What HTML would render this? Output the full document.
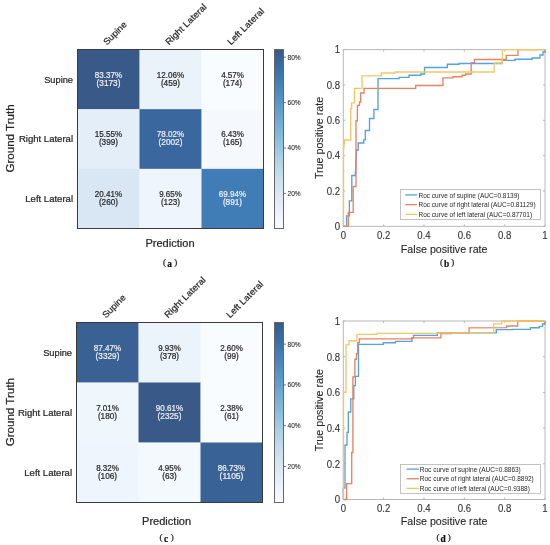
<!DOCTYPE html>
<html><head><meta charset="utf-8"><style>html,body{margin:0;padding:0;background:#fff;width:550px;height:545px;overflow:hidden;position:relative}</style></head><body>
<svg width="550" height="545" viewBox="0 0 550 545" style="font-family:'Liberation Sans',sans-serif;position:absolute;left:0;top:0;will-change:transform">
<rect width="550" height="545" fill="#fff"/>
<rect x="77.50" y="49.50" width="62.30" height="59.97" fill="#395989"/>
<rect x="139.50" y="49.50" width="62.30" height="59.97" fill="#eaf2fa"/>
<rect x="201.50" y="49.50" width="62.30" height="59.97" fill="#f9fcff"/>
<rect x="77.50" y="109.17" width="62.30" height="59.97" fill="#e3eef8"/>
<rect x="139.50" y="109.17" width="62.30" height="59.97" fill="#39679e"/>
<rect x="201.50" y="109.17" width="62.30" height="59.97" fill="#f5f9fe"/>
<rect x="77.50" y="168.83" width="62.30" height="59.97" fill="#d9e7f5"/>
<rect x="139.50" y="168.83" width="62.30" height="59.97" fill="#eff5fc"/>
<rect x="201.50" y="168.83" width="62.30" height="59.97" fill="#407db7"/>
<text x="108.50" y="77.73" text-anchor="middle" font-size="8.5" textLength="27.26" lengthAdjust="spacingAndGlyphs" fill="#f0f0f0" stroke="#f0f0f0" stroke-width="0.22">83.37%</text>
<text x="108.50" y="85.63" text-anchor="middle" font-size="8.5" textLength="23.78" lengthAdjust="spacingAndGlyphs" fill="#f0f0f0" stroke="#f0f0f0" stroke-width="0.22">(3173)</text>
<text x="170.50" y="77.73" text-anchor="middle" font-size="8.5" textLength="27.26" lengthAdjust="spacingAndGlyphs" fill="#262626" stroke="#262626" stroke-width="0.22">12.06%</text>
<text x="170.50" y="85.63" text-anchor="middle" font-size="8.5" textLength="19.23" lengthAdjust="spacingAndGlyphs" fill="#262626" stroke="#262626" stroke-width="0.22">(459)</text>
<text x="232.50" y="77.73" text-anchor="middle" font-size="8.5" textLength="22.71" lengthAdjust="spacingAndGlyphs" fill="#262626" stroke="#262626" stroke-width="0.22">4.57%</text>
<text x="232.50" y="85.63" text-anchor="middle" font-size="8.5" textLength="19.23" lengthAdjust="spacingAndGlyphs" fill="#262626" stroke="#262626" stroke-width="0.22">(174)</text>
<text x="108.50" y="137.40" text-anchor="middle" font-size="8.5" textLength="27.26" lengthAdjust="spacingAndGlyphs" fill="#262626" stroke="#262626" stroke-width="0.22">15.55%</text>
<text x="108.50" y="145.30" text-anchor="middle" font-size="8.5" textLength="19.23" lengthAdjust="spacingAndGlyphs" fill="#262626" stroke="#262626" stroke-width="0.22">(399)</text>
<text x="170.50" y="137.40" text-anchor="middle" font-size="8.5" textLength="27.26" lengthAdjust="spacingAndGlyphs" fill="#f0f0f0" stroke="#f0f0f0" stroke-width="0.22">78.02%</text>
<text x="170.50" y="145.30" text-anchor="middle" font-size="8.5" textLength="23.78" lengthAdjust="spacingAndGlyphs" fill="#f0f0f0" stroke="#f0f0f0" stroke-width="0.22">(2002)</text>
<text x="232.50" y="137.40" text-anchor="middle" font-size="8.5" textLength="22.71" lengthAdjust="spacingAndGlyphs" fill="#262626" stroke="#262626" stroke-width="0.22">6.43%</text>
<text x="232.50" y="145.30" text-anchor="middle" font-size="8.5" textLength="19.23" lengthAdjust="spacingAndGlyphs" fill="#262626" stroke="#262626" stroke-width="0.22">(165)</text>
<text x="108.50" y="197.07" text-anchor="middle" font-size="8.5" textLength="27.26" lengthAdjust="spacingAndGlyphs" fill="#262626" stroke="#262626" stroke-width="0.22">20.41%</text>
<text x="108.50" y="204.97" text-anchor="middle" font-size="8.5" textLength="19.23" lengthAdjust="spacingAndGlyphs" fill="#262626" stroke="#262626" stroke-width="0.22">(260)</text>
<text x="170.50" y="197.07" text-anchor="middle" font-size="8.5" textLength="22.71" lengthAdjust="spacingAndGlyphs" fill="#262626" stroke="#262626" stroke-width="0.22">9.65%</text>
<text x="170.50" y="204.97" text-anchor="middle" font-size="8.5" textLength="19.23" lengthAdjust="spacingAndGlyphs" fill="#262626" stroke="#262626" stroke-width="0.22">(123)</text>
<text x="232.50" y="197.07" text-anchor="middle" font-size="8.5" textLength="27.26" lengthAdjust="spacingAndGlyphs" fill="#f0f0f0" stroke="#f0f0f0" stroke-width="0.22">69.94%</text>
<text x="232.50" y="204.97" text-anchor="middle" font-size="8.5" textLength="19.23" lengthAdjust="spacingAndGlyphs" fill="#f0f0f0" stroke="#f0f0f0" stroke-width="0.22">(891)</text>
<rect x="77.50" y="49.50" width="186.00" height="179.00" fill="none" stroke="#3a3a3a" stroke-width="1"/>
<text x="73.00" y="82.73" text-anchor="end" font-size="9.0" textLength="28.81" lengthAdjust="spacingAndGlyphs" fill="#262626" stroke="#262626" stroke-width="0.22">Supine</text>
<text x="73.00" y="142.40" text-anchor="end" font-size="9.0" textLength="54.01" lengthAdjust="spacingAndGlyphs" fill="#262626" stroke="#262626" stroke-width="0.22">Right Lateral</text>
<text x="73.00" y="202.07" text-anchor="end" font-size="9.0" textLength="47.70" lengthAdjust="spacingAndGlyphs" fill="#262626" stroke="#262626" stroke-width="0.22">Left Lateral</text>
<text x="107.00" y="45.60" transform="rotate(-45 107.00 45.60)" font-size="9.0" textLength="28.81" lengthAdjust="spacingAndGlyphs" fill="#262626" stroke="#262626" stroke-width="0.22">Supine</text>
<text x="169.00" y="45.60" transform="rotate(-45 169.00 45.60)" font-size="9.0" textLength="54.01" lengthAdjust="spacingAndGlyphs" fill="#262626" stroke="#262626" stroke-width="0.22">Right Lateral</text>
<text x="231.00" y="45.60" transform="rotate(-45 231.00 45.60)" font-size="9.0" textLength="47.70" lengthAdjust="spacingAndGlyphs" fill="#262626" stroke="#262626" stroke-width="0.22">Left Lateral</text>
<defs><linearGradient id="g49" x1="0" y1="0" x2="0" y2="1">
<stop offset="0.00" stop-color="#395989"/>
<stop offset="0.10" stop-color="#396ea7"/>
<stop offset="0.20" stop-color="#4583bc"/>
<stop offset="0.30" stop-color="#5898c9"/>
<stop offset="0.40" stop-color="#6eacd4"/>
<stop offset="0.50" stop-color="#88bede"/>
<stop offset="0.60" stop-color="#a9d0e5"/>
<stop offset="0.70" stop-color="#c5ddee"/>
<stop offset="0.80" stop-color="#d9e7f5"/>
<stop offset="0.90" stop-color="#e9f2fa"/>
<stop offset="1.00" stop-color="#f9fcff"/>
</linearGradient></defs>
<rect x="274.5" y="49.50" width="9" height="179.00" fill="url(#g49)" stroke="#666" stroke-width="1"/>
<line x1="283.5" y1="193.45" x2="286.0" y2="193.45" stroke="#555" stroke-width="0.8"/>
<text class="cb" x="287.5" y="195.85" font-size="7.0" textLength="13.22" lengthAdjust="spacingAndGlyphs" fill="#262626" stroke="#262626" stroke-width="0.08">20%</text>
<line x1="283.5" y1="148.02" x2="286.0" y2="148.02" stroke="#555" stroke-width="0.8"/>
<text class="cb" x="287.5" y="150.42" font-size="7.0" textLength="13.22" lengthAdjust="spacingAndGlyphs" fill="#262626" stroke="#262626" stroke-width="0.08">40%</text>
<line x1="283.5" y1="102.59" x2="286.0" y2="102.59" stroke="#555" stroke-width="0.8"/>
<text class="cb" x="287.5" y="104.99" font-size="7.0" textLength="13.22" lengthAdjust="spacingAndGlyphs" fill="#262626" stroke="#262626" stroke-width="0.08">60%</text>
<line x1="283.5" y1="57.16" x2="286.0" y2="57.16" stroke="#555" stroke-width="0.8"/>
<text class="cb" x="287.5" y="59.56" font-size="7.0" textLength="13.22" lengthAdjust="spacingAndGlyphs" fill="#262626" stroke="#262626" stroke-width="0.08">80%</text>
<text x="170" y="247" text-anchor="middle" font-size="11.0" textLength="49.18" lengthAdjust="spacingAndGlyphs" fill="#262626" stroke="#262626" stroke-width="0.22">Prediction</text>
<text x="14.1" y="138.5" transform="rotate(-90 14.1 138.5)" text-anchor="middle" font-size="11.4" textLength="68.25" lengthAdjust="spacingAndGlyphs" fill="#262626" stroke="#262626" stroke-width="0.22">Ground Truth</text>
<text x="166.10" y="265.25" text-anchor="end" font-size="9" font-family="'Liberation Serif',serif" fill="#222" stroke="#222" stroke-width="0.22">(</text>
<text x="169.60" y="266.60" text-anchor="middle" font-size="9.4" font-family="'Liberation Serif',serif" font-weight="bold" fill="#111" stroke="#111" stroke-width="0.22">a</text>
<text x="174.30" y="265.25" text-anchor="start" font-size="9" font-family="'Liberation Serif',serif" fill="#222" stroke="#222" stroke-width="0.22">)</text>
<rect x="76.50" y="322.50" width="62.30" height="60.30" fill="#396194"/>
<rect x="138.50" y="322.50" width="62.30" height="60.30" fill="#ebf3fb"/>
<rect x="200.50" y="322.50" width="62.30" height="60.30" fill="#f9fcff"/>
<rect x="76.50" y="382.50" width="62.30" height="60.30" fill="#f0f7fc"/>
<rect x="138.50" y="382.50" width="62.30" height="60.30" fill="#395989"/>
<rect x="200.50" y="382.50" width="62.30" height="60.30" fill="#f9fcff"/>
<rect x="76.50" y="442.50" width="62.30" height="60.30" fill="#eef5fc"/>
<rect x="138.50" y="442.50" width="62.30" height="60.30" fill="#f4f9fe"/>
<rect x="200.50" y="442.50" width="62.30" height="60.30" fill="#396396"/>
<text x="107.50" y="350.90" text-anchor="middle" font-size="8.5" textLength="27.26" lengthAdjust="spacingAndGlyphs" fill="#f0f0f0" stroke="#f0f0f0" stroke-width="0.22">87.47%</text>
<text x="107.50" y="358.80" text-anchor="middle" font-size="8.5" textLength="23.78" lengthAdjust="spacingAndGlyphs" fill="#f0f0f0" stroke="#f0f0f0" stroke-width="0.22">(3329)</text>
<text x="169.50" y="350.90" text-anchor="middle" font-size="8.5" textLength="22.71" lengthAdjust="spacingAndGlyphs" fill="#262626" stroke="#262626" stroke-width="0.22">9.93%</text>
<text x="169.50" y="358.80" text-anchor="middle" font-size="8.5" textLength="19.23" lengthAdjust="spacingAndGlyphs" fill="#262626" stroke="#262626" stroke-width="0.22">(378)</text>
<text x="231.50" y="350.90" text-anchor="middle" font-size="8.5" textLength="22.71" lengthAdjust="spacingAndGlyphs" fill="#262626" stroke="#262626" stroke-width="0.22">2.60%</text>
<text x="231.50" y="358.80" text-anchor="middle" font-size="8.5" textLength="14.68" lengthAdjust="spacingAndGlyphs" fill="#262626" stroke="#262626" stroke-width="0.22">(99)</text>
<text x="107.50" y="410.90" text-anchor="middle" font-size="8.5" textLength="22.71" lengthAdjust="spacingAndGlyphs" fill="#262626" stroke="#262626" stroke-width="0.22">7.01%</text>
<text x="107.50" y="418.80" text-anchor="middle" font-size="8.5" textLength="19.23" lengthAdjust="spacingAndGlyphs" fill="#262626" stroke="#262626" stroke-width="0.22">(180)</text>
<text x="169.50" y="410.90" text-anchor="middle" font-size="8.5" textLength="27.26" lengthAdjust="spacingAndGlyphs" fill="#f0f0f0" stroke="#f0f0f0" stroke-width="0.22">90.61%</text>
<text x="169.50" y="418.80" text-anchor="middle" font-size="8.5" textLength="23.78" lengthAdjust="spacingAndGlyphs" fill="#f0f0f0" stroke="#f0f0f0" stroke-width="0.22">(2325)</text>
<text x="231.50" y="410.90" text-anchor="middle" font-size="8.5" textLength="22.71" lengthAdjust="spacingAndGlyphs" fill="#262626" stroke="#262626" stroke-width="0.22">2.38%</text>
<text x="231.50" y="418.80" text-anchor="middle" font-size="8.5" textLength="14.68" lengthAdjust="spacingAndGlyphs" fill="#262626" stroke="#262626" stroke-width="0.22">(61)</text>
<text x="107.50" y="470.90" text-anchor="middle" font-size="8.5" textLength="22.71" lengthAdjust="spacingAndGlyphs" fill="#262626" stroke="#262626" stroke-width="0.22">8.32%</text>
<text x="107.50" y="478.80" text-anchor="middle" font-size="8.5" textLength="19.23" lengthAdjust="spacingAndGlyphs" fill="#262626" stroke="#262626" stroke-width="0.22">(106)</text>
<text x="169.50" y="470.90" text-anchor="middle" font-size="8.5" textLength="22.71" lengthAdjust="spacingAndGlyphs" fill="#262626" stroke="#262626" stroke-width="0.22">4.95%</text>
<text x="169.50" y="478.80" text-anchor="middle" font-size="8.5" textLength="14.68" lengthAdjust="spacingAndGlyphs" fill="#262626" stroke="#262626" stroke-width="0.22">(63)</text>
<text x="231.50" y="470.90" text-anchor="middle" font-size="8.5" textLength="27.26" lengthAdjust="spacingAndGlyphs" fill="#f0f0f0" stroke="#f0f0f0" stroke-width="0.22">86.73%</text>
<text x="231.50" y="478.80" text-anchor="middle" font-size="8.5" textLength="23.78" lengthAdjust="spacingAndGlyphs" fill="#f0f0f0" stroke="#f0f0f0" stroke-width="0.22">(1105)</text>
<rect x="76.50" y="322.50" width="186.00" height="180.00" fill="none" stroke="#3a3a3a" stroke-width="1"/>
<text x="72.00" y="355.90" text-anchor="end" font-size="9.0" textLength="28.81" lengthAdjust="spacingAndGlyphs" fill="#262626" stroke="#262626" stroke-width="0.22">Supine</text>
<text x="72.00" y="415.90" text-anchor="end" font-size="9.0" textLength="54.01" lengthAdjust="spacingAndGlyphs" fill="#262626" stroke="#262626" stroke-width="0.22">Right Lateral</text>
<text x="72.00" y="475.90" text-anchor="end" font-size="9.0" textLength="47.70" lengthAdjust="spacingAndGlyphs" fill="#262626" stroke="#262626" stroke-width="0.22">Left Lateral</text>
<text x="106.00" y="318.60" transform="rotate(-45 106.00 318.60)" font-size="9.0" textLength="28.81" lengthAdjust="spacingAndGlyphs" fill="#262626" stroke="#262626" stroke-width="0.22">Supine</text>
<text x="168.00" y="318.60" transform="rotate(-45 168.00 318.60)" font-size="9.0" textLength="54.01" lengthAdjust="spacingAndGlyphs" fill="#262626" stroke="#262626" stroke-width="0.22">Right Lateral</text>
<text x="230.00" y="318.60" transform="rotate(-45 230.00 318.60)" font-size="9.0" textLength="47.70" lengthAdjust="spacingAndGlyphs" fill="#262626" stroke="#262626" stroke-width="0.22">Left Lateral</text>
<defs><linearGradient id="g322" x1="0" y1="0" x2="0" y2="1">
<stop offset="0.00" stop-color="#395989"/>
<stop offset="0.10" stop-color="#396ea7"/>
<stop offset="0.20" stop-color="#4583bc"/>
<stop offset="0.30" stop-color="#5898c9"/>
<stop offset="0.40" stop-color="#6eacd4"/>
<stop offset="0.50" stop-color="#88bede"/>
<stop offset="0.60" stop-color="#a9d0e5"/>
<stop offset="0.70" stop-color="#c5ddee"/>
<stop offset="0.80" stop-color="#d9e7f5"/>
<stop offset="0.90" stop-color="#e9f2fa"/>
<stop offset="1.00" stop-color="#f9fcff"/>
</linearGradient></defs>
<rect x="274.5" y="322.50" width="9" height="180.00" fill="url(#g322)" stroke="#666" stroke-width="1"/>
<line x1="283.5" y1="466.55" x2="286.0" y2="466.55" stroke="#555" stroke-width="0.8"/>
<text class="cb" x="287.5" y="468.95" font-size="7.0" textLength="13.22" lengthAdjust="spacingAndGlyphs" fill="#262626" stroke="#262626" stroke-width="0.08">20%</text>
<line x1="283.5" y1="425.75" x2="286.0" y2="425.75" stroke="#555" stroke-width="0.8"/>
<text class="cb" x="287.5" y="428.15" font-size="7.0" textLength="13.22" lengthAdjust="spacingAndGlyphs" fill="#262626" stroke="#262626" stroke-width="0.08">40%</text>
<line x1="283.5" y1="384.95" x2="286.0" y2="384.95" stroke="#555" stroke-width="0.8"/>
<text class="cb" x="287.5" y="387.35" font-size="7.0" textLength="13.22" lengthAdjust="spacingAndGlyphs" fill="#262626" stroke="#262626" stroke-width="0.08">60%</text>
<line x1="283.5" y1="344.15" x2="286.0" y2="344.15" stroke="#555" stroke-width="0.8"/>
<text class="cb" x="287.5" y="346.55" font-size="7.0" textLength="13.22" lengthAdjust="spacingAndGlyphs" fill="#262626" stroke="#262626" stroke-width="0.08">80%</text>
<text x="166.6" y="525.4" text-anchor="middle" font-size="11.0" textLength="49.18" lengthAdjust="spacingAndGlyphs" fill="#262626" stroke="#262626" stroke-width="0.22">Prediction</text>
<text x="13.6" y="412.2" transform="rotate(-90 13.6 412.2)" text-anchor="middle" font-size="11.4" textLength="68.25" lengthAdjust="spacingAndGlyphs" fill="#262626" stroke="#262626" stroke-width="0.22">Ground Truth</text>
<text x="162.60" y="540.25" text-anchor="end" font-size="9" font-family="'Liberation Serif',serif" fill="#222" stroke="#222" stroke-width="0.22">(</text>
<text x="166.10" y="541.60" text-anchor="middle" font-size="9.4" font-family="'Liberation Serif',serif" font-weight="bold" fill="#111" stroke="#111" stroke-width="0.22">c</text>
<text x="170.80" y="540.25" text-anchor="start" font-size="9" font-family="'Liberation Serif',serif" fill="#222" stroke="#222" stroke-width="0.22">)</text>
<rect x="343.30" y="49.60" width="201.70" height="176.75" fill="none" stroke="#b8b8b8" stroke-width="1"/>
<line x1="343.30" y1="226.35" x2="343.30" y2="224.35" stroke="#b8b8b8" stroke-width="1"/>
<line x1="343.30" y1="49.60" x2="343.30" y2="51.60" stroke="#b8b8b8" stroke-width="1"/>
<line x1="343.30" y1="226.35" x2="345.30" y2="226.35" stroke="#b8b8b8" stroke-width="1"/>
<line x1="545.00" y1="226.35" x2="543.00" y2="226.35" stroke="#b8b8b8" stroke-width="1"/>
<text class="r" x="343.30" y="238.95" text-anchor="middle" font-size="10.3" textLength="5.34" lengthAdjust="spacingAndGlyphs" fill="#303030" stroke="#303030" stroke-width="0.1">0</text>
<text class="r" x="340.10" y="230.15" text-anchor="end" font-size="10.3" textLength="5.34" lengthAdjust="spacingAndGlyphs" fill="#303030" stroke="#303030" stroke-width="0.1">0</text>
<line x1="383.64" y1="226.35" x2="383.64" y2="224.35" stroke="#b8b8b8" stroke-width="1"/>
<line x1="383.64" y1="49.60" x2="383.64" y2="51.60" stroke="#b8b8b8" stroke-width="1"/>
<line x1="343.30" y1="191.00" x2="345.30" y2="191.00" stroke="#b8b8b8" stroke-width="1"/>
<line x1="545.00" y1="191.00" x2="543.00" y2="191.00" stroke="#b8b8b8" stroke-width="1"/>
<text class="r" x="383.64" y="238.95" text-anchor="middle" font-size="10.3" textLength="13.35" lengthAdjust="spacingAndGlyphs" fill="#303030" stroke="#303030" stroke-width="0.1">0.2</text>
<text class="r" x="340.10" y="194.80" text-anchor="end" font-size="10.3" textLength="13.35" lengthAdjust="spacingAndGlyphs" fill="#303030" stroke="#303030" stroke-width="0.1">0.2</text>
<line x1="423.98" y1="226.35" x2="423.98" y2="224.35" stroke="#b8b8b8" stroke-width="1"/>
<line x1="423.98" y1="49.60" x2="423.98" y2="51.60" stroke="#b8b8b8" stroke-width="1"/>
<line x1="343.30" y1="155.65" x2="345.30" y2="155.65" stroke="#b8b8b8" stroke-width="1"/>
<line x1="545.00" y1="155.65" x2="543.00" y2="155.65" stroke="#b8b8b8" stroke-width="1"/>
<text class="r" x="423.98" y="238.95" text-anchor="middle" font-size="10.3" textLength="13.35" lengthAdjust="spacingAndGlyphs" fill="#303030" stroke="#303030" stroke-width="0.1">0.4</text>
<text class="r" x="340.10" y="159.45" text-anchor="end" font-size="10.3" textLength="13.35" lengthAdjust="spacingAndGlyphs" fill="#303030" stroke="#303030" stroke-width="0.1">0.4</text>
<line x1="464.32" y1="226.35" x2="464.32" y2="224.35" stroke="#b8b8b8" stroke-width="1"/>
<line x1="464.32" y1="49.60" x2="464.32" y2="51.60" stroke="#b8b8b8" stroke-width="1"/>
<line x1="343.30" y1="120.30" x2="345.30" y2="120.30" stroke="#b8b8b8" stroke-width="1"/>
<line x1="545.00" y1="120.30" x2="543.00" y2="120.30" stroke="#b8b8b8" stroke-width="1"/>
<text class="r" x="464.32" y="238.95" text-anchor="middle" font-size="10.3" textLength="13.35" lengthAdjust="spacingAndGlyphs" fill="#303030" stroke="#303030" stroke-width="0.1">0.6</text>
<text class="r" x="340.10" y="124.10" text-anchor="end" font-size="10.3" textLength="13.35" lengthAdjust="spacingAndGlyphs" fill="#303030" stroke="#303030" stroke-width="0.1">0.6</text>
<line x1="504.66" y1="226.35" x2="504.66" y2="224.35" stroke="#b8b8b8" stroke-width="1"/>
<line x1="504.66" y1="49.60" x2="504.66" y2="51.60" stroke="#b8b8b8" stroke-width="1"/>
<line x1="343.30" y1="84.95" x2="345.30" y2="84.95" stroke="#b8b8b8" stroke-width="1"/>
<line x1="545.00" y1="84.95" x2="543.00" y2="84.95" stroke="#b8b8b8" stroke-width="1"/>
<text class="r" x="504.66" y="238.95" text-anchor="middle" font-size="10.3" textLength="13.35" lengthAdjust="spacingAndGlyphs" fill="#303030" stroke="#303030" stroke-width="0.1">0.8</text>
<text class="r" x="340.10" y="88.75" text-anchor="end" font-size="10.3" textLength="13.35" lengthAdjust="spacingAndGlyphs" fill="#303030" stroke="#303030" stroke-width="0.1">0.8</text>
<line x1="545.00" y1="226.35" x2="545.00" y2="224.35" stroke="#b8b8b8" stroke-width="1"/>
<line x1="545.00" y1="49.60" x2="545.00" y2="51.60" stroke="#b8b8b8" stroke-width="1"/>
<line x1="343.30" y1="49.60" x2="345.30" y2="49.60" stroke="#b8b8b8" stroke-width="1"/>
<line x1="545.00" y1="49.60" x2="543.00" y2="49.60" stroke="#b8b8b8" stroke-width="1"/>
<text class="r" x="545.00" y="238.95" text-anchor="middle" font-size="10.3" textLength="5.34" lengthAdjust="spacingAndGlyphs" fill="#303030" stroke="#303030" stroke-width="0.1">1</text>
<text class="r" x="340.10" y="53.40" text-anchor="end" font-size="10.3" textLength="5.34" lengthAdjust="spacingAndGlyphs" fill="#303030" stroke="#303030" stroke-width="0.1">1</text>
<polyline points="343.30,226.30 346.60,226.30 346.60,215.80 349.40,215.80 349.40,200.90 351.80,200.90 351.80,175.50 355.40,175.50 355.40,174.00 356.50,150.00 358.20,150.00 358.20,143.00 363.70,143.00 363.70,139.80 365.30,139.80 365.30,130.50 369.50,130.50 369.50,118.50 373.90,118.50 373.90,109.50 378.00,109.50 378.00,78.60 399.10,78.60 399.10,77.40 409.00,77.40 409.00,75.20 420.80,75.20 420.80,74.00 424.50,74.00 424.50,67.50 447.30,67.50 447.30,64.20 459.00,64.20 459.00,63.50 502.40,63.50 502.40,60.30 515.00,60.30 515.00,59.20 532.00,59.20 532.00,58.00 540.00,58.00 540.00,55.00 543.00,55.00 543.00,52.00 545.00,52.00 545.00,49.60" fill="none" stroke="#52a3e2" stroke-width="1.35"/>
<polyline points="343.30,226.30 348.30,226.30 348.30,212.40 353.20,212.40 353.20,186.50 356.00,186.50 356.00,120.70 357.40,120.70 357.40,105.30 359.50,105.30 359.50,102.00 360.70,102.00 360.70,93.00 364.00,93.00 364.00,88.30 415.70,88.30 415.70,85.50 442.90,85.50 442.90,77.90 453.00,77.90 453.00,76.70 462.00,76.70 462.00,75.20 465.60,75.20 465.60,74.00 471.20,74.00 471.20,62.60 474.40,62.60 474.40,59.50 506.30,59.50 506.30,55.30 518.00,55.30 518.00,49.60 545.00,49.60" fill="none" stroke="#ea8260" stroke-width="1.35"/>
<polyline points="343.50,226.30 343.50,152.00 344.60,140.00 350.70,140.00 350.70,108.60 351.60,108.60 351.60,102.90 354.50,102.90 354.50,88.30 362.00,88.30 362.00,75.90 381.30,75.90 381.30,73.00 395.00,73.00 395.00,72.00 494.20,72.00 494.20,63.00 502.40,63.00 502.40,49.60 545.00,49.60" fill="none" stroke="#f3c862" stroke-width="1.35"/>
<text class="r" x="444.15" y="253.40" text-anchor="middle" font-size="10.7" fill="#262626" stroke="#262626" stroke-width="0.1">False positive rate</text>
<text class="r" x="323.30" y="137.97" transform="rotate(-90 323.30 137.97)" text-anchor="middle" font-size="10.7" fill="#262626" stroke="#262626" stroke-width="0.1">True positive rate</text>
<rect x="400.5" y="189.5" width="140.0" height="30.0" fill="#fff" stroke="#b4b4b4" stroke-width="0.8"/>
<line x1="405.3" y1="194.90" x2="417.1" y2="194.90" stroke="#52a3e2" stroke-width="1.3"/>
<text class="lg" x="418.5" y="197.50" font-size="6.5" fill="#262626">Roc curve of supine (AUC=0.8139)</text>
<line x1="405.3" y1="204.65" x2="417.1" y2="204.65" stroke="#ea8260" stroke-width="1.3"/>
<text class="lg" x="418.5" y="207.25" font-size="6.5" fill="#262626">Roc curve of right lateral (AUC=0.81129)</text>
<line x1="405.3" y1="214.40" x2="417.1" y2="214.40" stroke="#f3c862" stroke-width="1.3"/>
<text class="lg" x="418.5" y="217.00" font-size="6.5" fill="#262626">Roc curve of left lateral (AUC=0.87701)</text>
<text x="443.10" y="265.25" text-anchor="end" font-size="9" font-family="'Liberation Serif',serif" fill="#222" stroke="#222" stroke-width="0.22">(</text>
<text x="446.60" y="266.60" text-anchor="middle" font-size="9.4" font-family="'Liberation Serif',serif" font-weight="bold" fill="#111" stroke="#111" stroke-width="0.22">b</text>
<text x="451.30" y="265.25" text-anchor="start" font-size="9" font-family="'Liberation Serif',serif" fill="#222" stroke="#222" stroke-width="0.22">)</text>
<rect x="343.30" y="321.00" width="201.70" height="178.50" fill="none" stroke="#b8b8b8" stroke-width="1"/>
<line x1="343.30" y1="499.50" x2="343.30" y2="497.50" stroke="#b8b8b8" stroke-width="1"/>
<line x1="343.30" y1="321.00" x2="343.30" y2="323.00" stroke="#b8b8b8" stroke-width="1"/>
<line x1="343.30" y1="499.50" x2="345.30" y2="499.50" stroke="#b8b8b8" stroke-width="1"/>
<line x1="545.00" y1="499.50" x2="543.00" y2="499.50" stroke="#b8b8b8" stroke-width="1"/>
<text class="r" x="343.30" y="512.10" text-anchor="middle" font-size="10.3" textLength="5.34" lengthAdjust="spacingAndGlyphs" fill="#303030" stroke="#303030" stroke-width="0.1">0</text>
<text class="r" x="340.10" y="503.30" text-anchor="end" font-size="10.3" textLength="5.34" lengthAdjust="spacingAndGlyphs" fill="#303030" stroke="#303030" stroke-width="0.1">0</text>
<line x1="383.64" y1="499.50" x2="383.64" y2="497.50" stroke="#b8b8b8" stroke-width="1"/>
<line x1="383.64" y1="321.00" x2="383.64" y2="323.00" stroke="#b8b8b8" stroke-width="1"/>
<line x1="343.30" y1="463.80" x2="345.30" y2="463.80" stroke="#b8b8b8" stroke-width="1"/>
<line x1="545.00" y1="463.80" x2="543.00" y2="463.80" stroke="#b8b8b8" stroke-width="1"/>
<text class="r" x="383.64" y="512.10" text-anchor="middle" font-size="10.3" textLength="13.35" lengthAdjust="spacingAndGlyphs" fill="#303030" stroke="#303030" stroke-width="0.1">0.2</text>
<text class="r" x="340.10" y="467.60" text-anchor="end" font-size="10.3" textLength="13.35" lengthAdjust="spacingAndGlyphs" fill="#303030" stroke="#303030" stroke-width="0.1">0.2</text>
<line x1="423.98" y1="499.50" x2="423.98" y2="497.50" stroke="#b8b8b8" stroke-width="1"/>
<line x1="423.98" y1="321.00" x2="423.98" y2="323.00" stroke="#b8b8b8" stroke-width="1"/>
<line x1="343.30" y1="428.10" x2="345.30" y2="428.10" stroke="#b8b8b8" stroke-width="1"/>
<line x1="545.00" y1="428.10" x2="543.00" y2="428.10" stroke="#b8b8b8" stroke-width="1"/>
<text class="r" x="423.98" y="512.10" text-anchor="middle" font-size="10.3" textLength="13.35" lengthAdjust="spacingAndGlyphs" fill="#303030" stroke="#303030" stroke-width="0.1">0.4</text>
<text class="r" x="340.10" y="431.90" text-anchor="end" font-size="10.3" textLength="13.35" lengthAdjust="spacingAndGlyphs" fill="#303030" stroke="#303030" stroke-width="0.1">0.4</text>
<line x1="464.32" y1="499.50" x2="464.32" y2="497.50" stroke="#b8b8b8" stroke-width="1"/>
<line x1="464.32" y1="321.00" x2="464.32" y2="323.00" stroke="#b8b8b8" stroke-width="1"/>
<line x1="343.30" y1="392.40" x2="345.30" y2="392.40" stroke="#b8b8b8" stroke-width="1"/>
<line x1="545.00" y1="392.40" x2="543.00" y2="392.40" stroke="#b8b8b8" stroke-width="1"/>
<text class="r" x="464.32" y="512.10" text-anchor="middle" font-size="10.3" textLength="13.35" lengthAdjust="spacingAndGlyphs" fill="#303030" stroke="#303030" stroke-width="0.1">0.6</text>
<text class="r" x="340.10" y="396.20" text-anchor="end" font-size="10.3" textLength="13.35" lengthAdjust="spacingAndGlyphs" fill="#303030" stroke="#303030" stroke-width="0.1">0.6</text>
<line x1="504.66" y1="499.50" x2="504.66" y2="497.50" stroke="#b8b8b8" stroke-width="1"/>
<line x1="504.66" y1="321.00" x2="504.66" y2="323.00" stroke="#b8b8b8" stroke-width="1"/>
<line x1="343.30" y1="356.70" x2="345.30" y2="356.70" stroke="#b8b8b8" stroke-width="1"/>
<line x1="545.00" y1="356.70" x2="543.00" y2="356.70" stroke="#b8b8b8" stroke-width="1"/>
<text class="r" x="504.66" y="512.10" text-anchor="middle" font-size="10.3" textLength="13.35" lengthAdjust="spacingAndGlyphs" fill="#303030" stroke="#303030" stroke-width="0.1">0.8</text>
<text class="r" x="340.10" y="360.50" text-anchor="end" font-size="10.3" textLength="13.35" lengthAdjust="spacingAndGlyphs" fill="#303030" stroke="#303030" stroke-width="0.1">0.8</text>
<line x1="545.00" y1="499.50" x2="545.00" y2="497.50" stroke="#b8b8b8" stroke-width="1"/>
<line x1="545.00" y1="321.00" x2="545.00" y2="323.00" stroke="#b8b8b8" stroke-width="1"/>
<line x1="343.30" y1="321.00" x2="345.30" y2="321.00" stroke="#b8b8b8" stroke-width="1"/>
<line x1="545.00" y1="321.00" x2="543.00" y2="321.00" stroke="#b8b8b8" stroke-width="1"/>
<text class="r" x="545.00" y="512.10" text-anchor="middle" font-size="10.3" textLength="5.34" lengthAdjust="spacingAndGlyphs" fill="#303030" stroke="#303030" stroke-width="0.1">1</text>
<text class="r" x="340.10" y="324.80" text-anchor="end" font-size="10.3" textLength="5.34" lengthAdjust="spacingAndGlyphs" fill="#303030" stroke="#303030" stroke-width="0.1">1</text>
<polyline points="343.30,499.50 343.30,488.00 345.00,488.00 345.00,445.00 347.00,445.00 347.00,432.40 348.30,432.40 348.30,412.00 350.80,412.00 350.80,398.80 353.80,398.80 353.80,385.60 355.40,385.60 355.40,376.30 358.50,376.30 358.50,344.30 383.30,344.30 383.30,342.70 395.50,342.70 395.50,341.40 411.90,341.40 411.90,337.80 413.50,337.80 413.50,335.40 437.30,335.40 437.30,332.90 496.30,332.90 496.30,329.60 512.40,329.60 512.40,329.30 530.40,329.30 530.40,327.70 539.40,327.70 539.40,326.40 542.60,326.40 542.60,324.00 545.00,324.00 545.00,321.00" fill="none" stroke="#52a3e2" stroke-width="1.35"/>
<polyline points="343.30,499.50 346.60,499.50 346.60,483.60 351.70,483.60 351.70,452.50 352.90,452.50 352.90,376.80 354.90,376.80 354.90,359.20 356.50,359.20 356.50,353.70 357.60,353.70 357.60,342.70 359.30,342.70 359.30,338.80 411.90,338.80 411.90,337.80 440.90,337.80 440.90,333.60 450.90,333.60 450.90,332.80 469.10,332.80 469.10,327.80 506.60,327.70 506.60,326.00 517.60,326.00 517.60,321.00 545.00,321.00" fill="none" stroke="#ea8260" stroke-width="1.35"/>
<polyline points="343.50,499.50 343.50,392.20 346.00,392.20 346.00,344.90 349.00,344.90 349.00,340.70 357.00,340.70 357.00,334.40 376.90,334.40 376.90,333.40 438.00,333.40 438.00,332.90 493.60,332.90 493.60,323.90 501.70,323.90 501.70,321.00 545.00,321.00" fill="none" stroke="#f3c862" stroke-width="1.35"/>
<text class="r" x="444.15" y="525.10" text-anchor="middle" font-size="10.7" fill="#262626" stroke="#262626" stroke-width="0.1">False positive rate</text>
<text class="r" x="323.30" y="410.25" transform="rotate(-90 323.30 410.25)" text-anchor="middle" font-size="10.7" fill="#262626" stroke="#262626" stroke-width="0.1">True positive rate</text>
<rect x="400.5" y="464.5" width="140.0" height="29.0" fill="#fff" stroke="#b4b4b4" stroke-width="0.8"/>
<line x1="406.6" y1="469.10" x2="418.9" y2="469.10" stroke="#52a3e2" stroke-width="1.3"/>
<text class="lg" x="419.8" y="471.70" font-size="6.5" fill="#262626">Roc curve of supine (AUC=0.8863)</text>
<line x1="406.6" y1="478.75" x2="418.9" y2="478.75" stroke="#ea8260" stroke-width="1.3"/>
<text class="lg" x="419.8" y="481.35" font-size="6.5" fill="#262626">Roc curve of right lateral (AUC=0.8892)</text>
<line x1="406.6" y1="488.40" x2="418.9" y2="488.40" stroke="#f3c862" stroke-width="1.3"/>
<text class="lg" x="419.8" y="491.00" font-size="6.5" fill="#262626">Roc curve of left lateral (AUC=0.9388)</text>
<text x="439.50" y="540.25" text-anchor="end" font-size="9" font-family="'Liberation Serif',serif" fill="#222" stroke="#222" stroke-width="0.22">(</text>
<text x="443.00" y="541.60" text-anchor="middle" font-size="9.4" font-family="'Liberation Serif',serif" font-weight="bold" fill="#111" stroke="#111" stroke-width="0.22">d</text>
<text x="447.70" y="540.25" text-anchor="start" font-size="9" font-family="'Liberation Serif',serif" fill="#222" stroke="#222" stroke-width="0.22">)</text>
</svg>
</body></html>
